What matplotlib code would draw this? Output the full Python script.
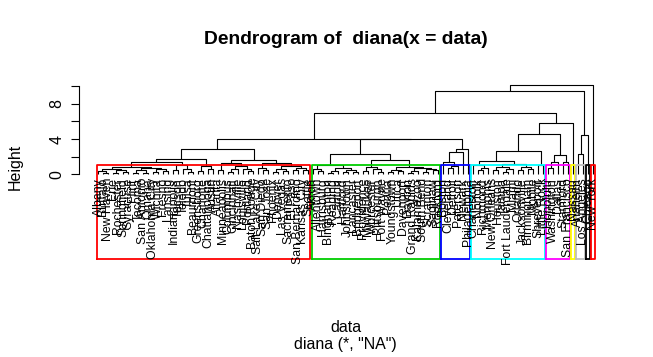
import matplotlib
matplotlib.use("Agg")
import matplotlib.pyplot as plt

plt.rcParams['font.family'] = ['Liberation Sans', 'DejaVu Sans']

L = None  # a leaf; leaves are numbered left to right

# divisive clusters as (height, left, right)
red_tree = (2.87,
    (1.73,
        (1.40,
            (0.86,
                (0.60, (0.35, L, (0.15, L, L)), (0.45, (0.20, L, L), (0.30, L, L))),
                (0.70, (0.50, (0.10, L, L), (0.12, L, L)), (0.55, (0.30, L, L), (0.40, L, L)))),
            (1.00, (0.45, L, L), (0.65, L, (0.30, L, L)))),
        (0.95, (0.40, L, L), (0.55, L, L))),
    (1.65,
        (1.30, (0.50, L, L), (0.90, (0.55, (0.30, L, L), L), (0.60, L, (0.35, L, L)))),
        (1.30, (0.75, L, (0.45, L, L)),
               (0.95, (0.60, (0.30, L, L), (0.40, L, L)), (0.70, (0.45, L, L), (0.50, L, L))))))

green_tree = (2.30,
    (1.06, (0.57, L, (0.35, L, L)), (0.75, (0.40, (0.20, L, L), L), (0.50, (0.25, L, L), (0.30, L, L)))),
    (1.59, (0.80, (0.35, L, L), (0.55, L, (0.30, L, L))),
           (0.86, (0.50, (0.30, L, L), (0.35, L, L)),
                  (0.70, (0.40, (0.15, L, L), L), (0.55, (0.30, L, L), (0.45, L, L))))))

blue_tree = (2.87, (2.57, (1.43, L, (0.90, (0.70, L, L), L)), L), L)

cyan_tree = (2.68,
    (1.55, (1.06, L, (0.75, (0.45, L, L), L)),
           (1.14, (0.85, (0.50, L, L), (0.55, (0.30, L, L), L)), (0.80, (0.45, L, L), (0.60, L, L)))),
    (1.00, L, L))

magenta_tree = (2.20, (1.43, (0.68, L, L), L), (1.38, L, L))
grey_tree = (2.30, L, L)

root = (10.15,
    (9.40,
        (6.93,
            (3.98, red_tree, (3.95, green_tree, blue_tree)),
            (5.80, (4.53, cyan_tree, magenta_tree), L)),
        (4.45, grey_tree, L)),
    L)

cities = [
    "Albany", "Buffalo", "New Haven", "Erie", "Rochester", "Springfield", "Syracuse",
    "Flint", "Tacoma", "San Antonio", "Omaha", "Oklahoma City", "Wichita", "Fresno",
    "Lansing", "Indianapolis", "Tucson", "Toledo", "Tulsa", "Beaumont", "Greensboro",
    "Charlotte", "Chattanooga", "Austin", "Atlanta", "Minneapolis", "Columbus",
    "Cincinnati", "Nashville", "Louisville", "Portland", "Baton Rouge", "Salt Lake City",
    "San Diego", "San Jose", "Phoenix", "Denver", "Las Vegas", "Sacramento", "El Paso",
    "San Bernardino", "Kansas City", "Seattle",
    "Akron", "Allentown", "Harrisburg", "Binghamton", "Reading", "Canton", "Hartford",
    "Johnstown", "Lancaster", "Bridgeport", "Providence", "Milwaukee", "Worcester",
    "Pittsburgh", "Fort Wayne", "Peoria", "Youngstown", "Utica", "Davenport", "Dayton",
    "Grand Rapids", "Kalamazoo", "South Bend", "Scranton", "Saginaw", "Rockford",
    "Boston", "Cleveland", "Detroit", "Paterson", "Newark", "Philadelphia",
    "Charleston", "Norfolk", "Richmond", "Memphis", "New Orleans", "Houston", "Tampa",
    "Fort Lauderdale", "Miami", "Orlando", "Jacksonville", "Birmingham", "Mobile",
    "Shreveport", "Little Rock",
    "Honolulu", "Washington", "Dallas", "Stamford", "San Francisco",
    "Nassau", "Anaheim", "Los Angeles", "Chicago", "New York",
]

k = 9
box_top = 1.05
box_colors = ['#FF0000', '#00CD00', '#0000FF', '#00FFFF', '#FF00FF',
              '#FFFF00', '#BEBEBE', '#000000', '#FF0000']

n = len(cities)
fig = plt.figure(figsize=(6.53, 3.57), dpi=100)
ax = fig.add_axes([78.7 / 653, 98 / 357, 534.1 / 653, 180.3 / 357])
ax.set_xlim(1 - 0.04 * (n - 1), n + 0.04 * (n - 1))
ax.set_ylim(-9.59, 10.83)


def draw(node, pos):
    if node is None:
        pos[0] += 1
        return pos[0], 0.0
    h, a, b = node
    xa, ha = draw(a, pos)
    xb, hb = draw(b, pos)
    ax.plot([xa, xa, xb, xb], [ha, h, h, hb], color='black', lw=0.8,
            solid_capstyle='butt')
    return (xa + xb) / 2, h


draw(root, [0])

for i, name in enumerate(cities):
    ax.text(i + 1, -0.42, name, rotation=90, ha='center', va='top',
            fontsize=8.8, color='black', clip_on=False)


# boxes round the k clusters
def heights(node):
    if node is None:
        return []
    return [node[0]] + heights(node[1]) + heights(node[2])


def n_leaves(node):
    return 1 if node is None else n_leaves(node[1]) + n_leaves(node[2])


def cut(node, thr):
    if node is None or node[0] < thr:
        return [node]
    return cut(node[1], thr) + cut(node[2], thr)


hs = sorted(heights(root), reverse=True)
groups = cut(root, (hs[k - 2] + hs[k - 1]) / 2)
ybot = ax.get_ylim()[0]
start = 1
for g, col in zip(groups, box_colors):
    end = start + n_leaves(g) - 1
    x0, x1 = start - 0.34, end + 0.33
    ax.plot([x0, x0, x1, x1, x0], [ybot, box_top, box_top, ybot, ybot],
            color=col, lw=1.3, clip_on=False)
    start = end + 1

for s in ['top', 'right', 'bottom']:
    ax.spines[s].set_visible(False)
ax.spines['left'].set_bounds(0, 10)
ax.spines['left'].set_linewidth(0.8)
ax.set_xticks([])
ax.set_yticks([0, 2, 4, 6, 8, 10])
ax.set_yticklabels(['0', '', '4', '', '8', ''], rotation=90, va='center', fontsize=11.5)
ax.tick_params(axis='y', length=5.8, width=0.8, pad=4.5)

fig.text(345.7 / 653, 1 - 40 / 357, 'Dendrogram of  diana(x = data)',
         ha='center', va='center', fontsize=13.9, fontweight='bold')
fig.text(15 / 653, 1 - 167 / 357, 'Height', rotation=90, ha='center', va='center',
         fontsize=11.5)
fig.text(345.7 / 653, 1 - 327 / 357, 'data', ha='center', va='center', fontsize=11.5)
fig.text(345.7 / 653, 1 - 344 / 357, 'diana (*, "NA")', ha='center', va='center',
         fontsize=11.5)

fig.savefig('out.png', dpi=100)
